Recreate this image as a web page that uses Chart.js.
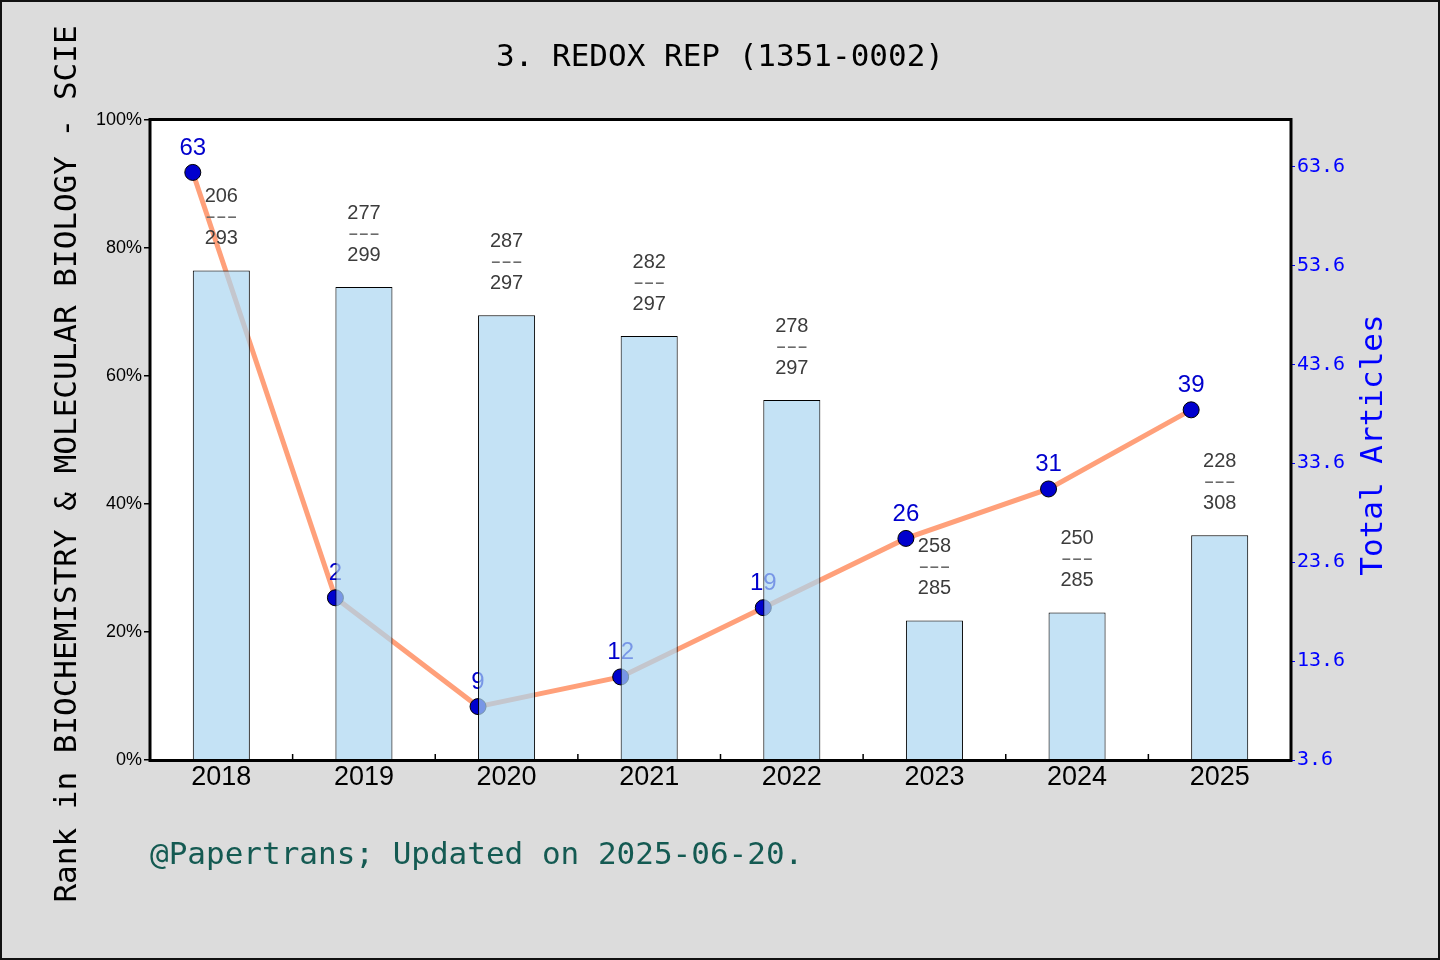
<!DOCTYPE html>
<html>
<head>
<meta charset="utf-8">
<script src="https://cdn.jsdelivr.net/npm/chart.js@4.4.1/dist/chart.umd.min.js"></script>
<style>
html,body{margin:0;padding:0;background:#dcdcdc;overflow:hidden}
#wrap{width:1440px;height:960px;position:relative}
canvas{display:block}
</style>
</head>
<body>
<div id="wrap"><canvas id="c" width="1440" height="960"></canvas></div>
<script>
// ---- data ----
const years = ['2018', '2019', '2020', '2021', '2022', '2023', '2024', '2025'];
const rankPercent = [76.5, 73.9, 69.5, 66.25, 56.25, 21.8, 23.05, 35.1];
const totalArticles = [63, 20, 9, 12, 19, 26, 31, 39];
const articleLabels = ['63', '2', '9', '12', '19', '26', '31', '39'];
const ranks = [206, 277, 287, 282, 278, 258, 250, 228];
const categoryTotals = [293, 299, 297, 297, 297, 285, 285, 308];
const leftTicks = [0, 20, 40, 60, 80, 100];
const rightTicks = [3.6, 13.6, 23.6, 33.6, 43.6, 53.6, 63.6];
const rightMin = 3.6;
const rightMax = 68.3;
const titleText = '3. REDOX REP (1351-0002)';
const leftTitle = 'Rank in BIOCHEMISTRY & MOLECULAR BIOLOGY - SCIE';
const rightTitle = 'Total Articles';
const footerText = '@Papertrans; Updated on 2025-06-20.';

// ---- style ----
const barFrac = 0.4;
const MONO = '"DejaVu Sans Mono", monospace';
const SANS = '"Liberation Sans", Arial, sans-serif';

const deco = {
  id: 'deco',
  beforeDraw(chart) {
    const { ctx, chartArea: a } = chart;
    ctx.save();
    ctx.fillStyle = '#dcdcdc';
    ctx.fillRect(0, 0, chart.width, chart.height);
    ctx.fillStyle = '#ffffff';
    ctx.fillRect(a.left, a.top, a.right - a.left, a.bottom - a.top);
    ctx.strokeStyle = '#111';
    ctx.lineWidth = 2;
    ctx.strokeRect(1, 1, chart.width - 2, chart.height - 2);

    ctx.textAlign = 'center';
    ctx.textBaseline = 'middle';
    ctx.fillStyle = '#000';
    ctx.font = '31px ' + MONO;
    ctx.fillText(titleText, 720, 58);

    ctx.save();
    ctx.translate(68, 464);
    ctx.rotate(-Math.PI / 2);
    ctx.fillStyle = '#000';
    ctx.fillText(leftTitle, 0, 0);
    ctx.restore();

    ctx.save();
    ctx.translate(1374, 445);
    ctx.rotate(-Math.PI / 2);
    ctx.fillStyle = '#0000ff';
    ctx.fillText(rightTitle, 0, 0);
    ctx.restore();

    ctx.textAlign = 'left';
    ctx.fillStyle = '#145a52';
    ctx.fillText(footerText, 150, 856);
    ctx.restore();
  },
  afterDatasetDraw(chart, args) {
    if (args.index !== 1) return;
    const { ctx } = chart;
    const meta = chart.getDatasetMeta(1);
    ctx.save();
    ctx.font = '24px ' + SANS;
    ctx.fillStyle = '#0000cd';
    ctx.textAlign = 'center';
    ctx.textBaseline = 'middle';
    meta.data.forEach((pt, i) => {
      ctx.fillText(articleLabels[i], pt.x, pt.y - 24.5);
    });
    ctx.restore();
  },
  afterDatasetsDraw(chart) {
    const { ctx, chartArea: a } = chart;
    const meta = chart.getDatasetMeta(0);
    ctx.save();
    ctx.textAlign = 'center';
    ctx.textBaseline = 'middle';
    meta.data.forEach((bar, i) => {
      const mid = bar.y - 52.5;
      ctx.fillStyle = '#3c3c3c';
      ctx.font = '20px ' + SANS;
      ctx.fillText(String(ranks[i]), bar.x, mid - 21);
      ctx.fillText(String(categoryTotals[i]), bar.x, mid + 21);
      ctx.save();
      ctx.fillStyle = '#6a6a6a';
      ctx.translate(bar.x, mid);
      ctx.scale(1.6, 1);
      ctx.fillText('---', 0, 0);
      ctx.restore();
    });
    // inward ticks at category boundaries
    const xs = chart.scales.x;
    ctx.strokeStyle = '#000';
    ctx.lineWidth = 1.5;
    for (let i = 1; i < years.length; i++) {
      const bx = (xs.getPixelForValue(i - 1) + xs.getPixelForValue(i)) / 2;
      ctx.beginPath();
      ctx.moveTo(bx, a.bottom);
      ctx.lineTo(bx, a.bottom - 6);
      ctx.stroke();
    }
    // frame
    ctx.lineWidth = 3;
    ctx.strokeStyle = '#000';
    ctx.strokeRect(a.left, a.top - 0.5, a.right - a.left, a.bottom - a.top + 1);
    ctx.restore();
  }
};

new Chart(document.getElementById('c'), {
  type: 'bar',
  data: {
    labels: years,
    datasets: [
      {
        type: 'bar',
        label: 'Rank',
        data: rankPercent,
        xAxisID: 'x',
        yAxisID: 'y',
        backgroundColor: 'rgba(171,214,241,0.7)',
        borderColor: '#000',
        borderWidth: 1,
        grouped: false,
        categoryPercentage: 1,
        barPercentage: barFrac,
        order: 0
      },
      {
        type: 'line',
        label: 'Total Articles',
        data: totalArticles.map((v, i) => ({ x: i - barFrac / 2, y: v })),
        xAxisID: 'x2',
        yAxisID: 'y2',
        borderColor: '#ffa07a',
        borderWidth: 5,
        pointRadius: 8,
        pointHoverRadius: 8,
        pointBackgroundColor: '#0000cd',
        pointBorderColor: '#000',
        pointBorderWidth: 1,
        tension: 0,
        clip: false,
        order: 1
      }
    ]
  },
  options: {
    responsive: false,
    animation: false,
    devicePixelRatio: 1,
    layout: { padding: { top: 120, left: 0, right: 0, bottom: 0 } },
    plugins: { legend: { display: false }, tooltip: { enabled: false }, title: { display: false } },
    scales: {
      x: {
        type: 'category',
        offset: true,
        grid: { display: false, drawTicks: false },
        border: { display: false },
        ticks: { color: '#000', font: { family: SANS, size: 27, lineHeight: 1 }, padding: 4, maxRotation: 0, autoSkip: false },
        afterFit(s) { s.height = 200; }
      },
      x2: {
        type: 'linear',
        display: false,
        offset: false,
        bounds: 'ticks',
        min: -0.5,
        max: years.length - 0.5
      },
      y: {
        position: 'left',
        min: 0,
        max: 100,
        afterBuildTicks(s) { s.ticks = leftTicks.map(v => ({ value: v })); },
        ticks: { callback: v => v + '%', color: '#000', font: { family: SANS, size: 18 }, padding: 2 },
        grid: { drawOnChartArea: false, drawTicks: true, tickLength: 6, color: '#000', lineWidth: 1.5 },
        border: { display: false },
        afterFit(s) { s.width = 150; }
      },
      y2: {
        position: 'right',
        min: rightMin,
        max: rightMax,
        afterBuildTicks(s) { s.ticks = rightTicks.map(v => ({ value: v })); },
        ticks: { callback: v => v.toFixed(1), color: '#0000ff', font: { family: MONO, size: 20 }, padding: 2 },
        grid: { drawOnChartArea: false, drawTicks: true, tickLength: 4, color: '#0000ff', lineWidth: 1 },
        border: { display: false },
        afterFit(s) { s.width = 149; }
      }
    }
  },
  plugins: [deco]
});
</script>
</body>
</html>
